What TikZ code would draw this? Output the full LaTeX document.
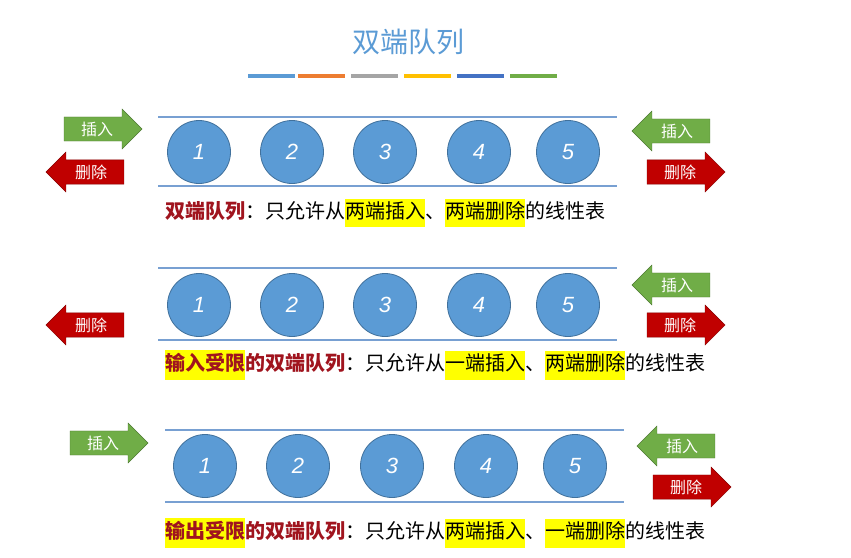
\documentclass[tikz,border=0pt]{standalone}
\usepackage{fontspec}
\setmainfont{Liberation Sans}
\newfontfamily\cjk{Noto Sans CJK SC}
\usetikzlibrary{shapes.arrows}
\definecolor{ballfill}{RGB}{91,155,213}
\definecolor{ballline}{RGB}{65,113,156}
\definecolor{gr}{RGB}{112,173,71}
\definecolor{rd}{RGB}{192,0,0}
\definecolor{dred}{RGB}{160,20,30}
\definecolor{hl}{RGB}{255,255,0}
\definecolor{lineb}{RGB}{120,160,210}
\definecolor{barA}{RGB}{91,155,213}
\definecolor{barB}{RGB}{237,125,49}
\definecolor{barC}{RGB}{165,165,165}
\definecolor{barD}{RGB}{255,192,0}
\definecolor{barE}{RGB}{68,114,196}
\definecolor{barF}{RGB}{112,173,71}
\tikzset{
 ball/.style={circle,fill=ballfill,draw=ballline,line width=0.8pt,minimum size=63pt,text=white,font=\itshape\fontsize{22}{22}\selectfont},
 rail/.style={draw=lineb,line width=2pt},
 arr/.style={single arrow,single arrow head extend=7pt,minimum height=78pt,minimum width=40pt,inner sep=3pt,text=white,font=\cjk\fontsize{16}{16}\selectfont,draw=#1!70!black,fill=#1},
 captxt/.style={anchor=west,font=\cjk\fontsize{20}{20}\selectfont,inner sep=0pt},
}
\newcommand{\hlt}[1]{\colorbox{hl}{\kern-3pt\strut #1\kern-3pt}}
\newcommand{\rb}[1]{\textcolor{dred}{\bfseries #1}}
\begin{document}
\begin{tikzpicture}[x=1pt,y=-1pt]
\useasboundingbox[fill=white] (0,0) rectangle (851,557);
\node[font=\cjk\fontsize{28}{28}\selectfont,text=ballfill] (title) at (408,42) {双端队列};
\foreach \a/\c in {248/barA,298/barB,351/barC,404/barD,457/barE,510/barF}
  \fill[\c] (\a,74) rectangle (\a+47,78);
% row 1
\draw[rail] (158,117) -- (617,117); \draw[rail] (158,186) -- (617,186);
\foreach \x [count=\i] in {199,292,385,479,568} \node[ball] (a\i) at (\x,152) {\i};
\node[arr=gr] (a1in) at (97,129) {插入};
\node[arr=rd,shape border rotate=180] (a1out) at (91,172) {删除};
\node[arr=gr,shape border rotate=180] (a2in) at (677,131) {插入};
\node[arr=rd] (a2out) at (680,172) {删除};
\node[captxt] (c1) at (165,213) {\rb{双端队列}：只允许从\hlt{两端插入}、\hlt{两端删除}的线性表};
% row 2
\draw[rail] (158,268) -- (617,268); \draw[rail] (158,340) -- (617,340);
\foreach \x [count=\i] in {199,292,385,479,568} \node[ball] (b\i) at (\x,305) {\i};
\node[arr=rd,shape border rotate=180] (b1out) at (91,325) {删除};
\node[arr=gr,shape border rotate=180] (b2in) at (677,285) {插入};
\node[arr=rd] (b2out) at (680,325) {删除};
\node[captxt] (c2) at (165,365) {\hlt{\rb{输入受限}}\rb{的双端队列}：只允许从\hlt{一端插入}、\hlt{两端删除}的线性表};
% row 3
\draw[rail] (165,430) -- (624,430); \draw[rail] (165,502) -- (624,502);
\foreach \x [count=\i] in {205,298,392,486,575} \node[ball] (d\i) at (\x,466) {\i};
\node[arr=gr] (d1in) at (103,443) {插入};
\node[arr=gr,shape border rotate=180] (d2in) at (682,446) {插入};
\node[arr=rd] (d2out) at (686,487) {删除};
\node[captxt] (c3) at (165,533) {\hlt{\rb{输出受限}}\rb{的双端队列}：只允许从\hlt{两端插入}、\hlt{一端删除}的线性表};
\end{tikzpicture}
\end{document}
